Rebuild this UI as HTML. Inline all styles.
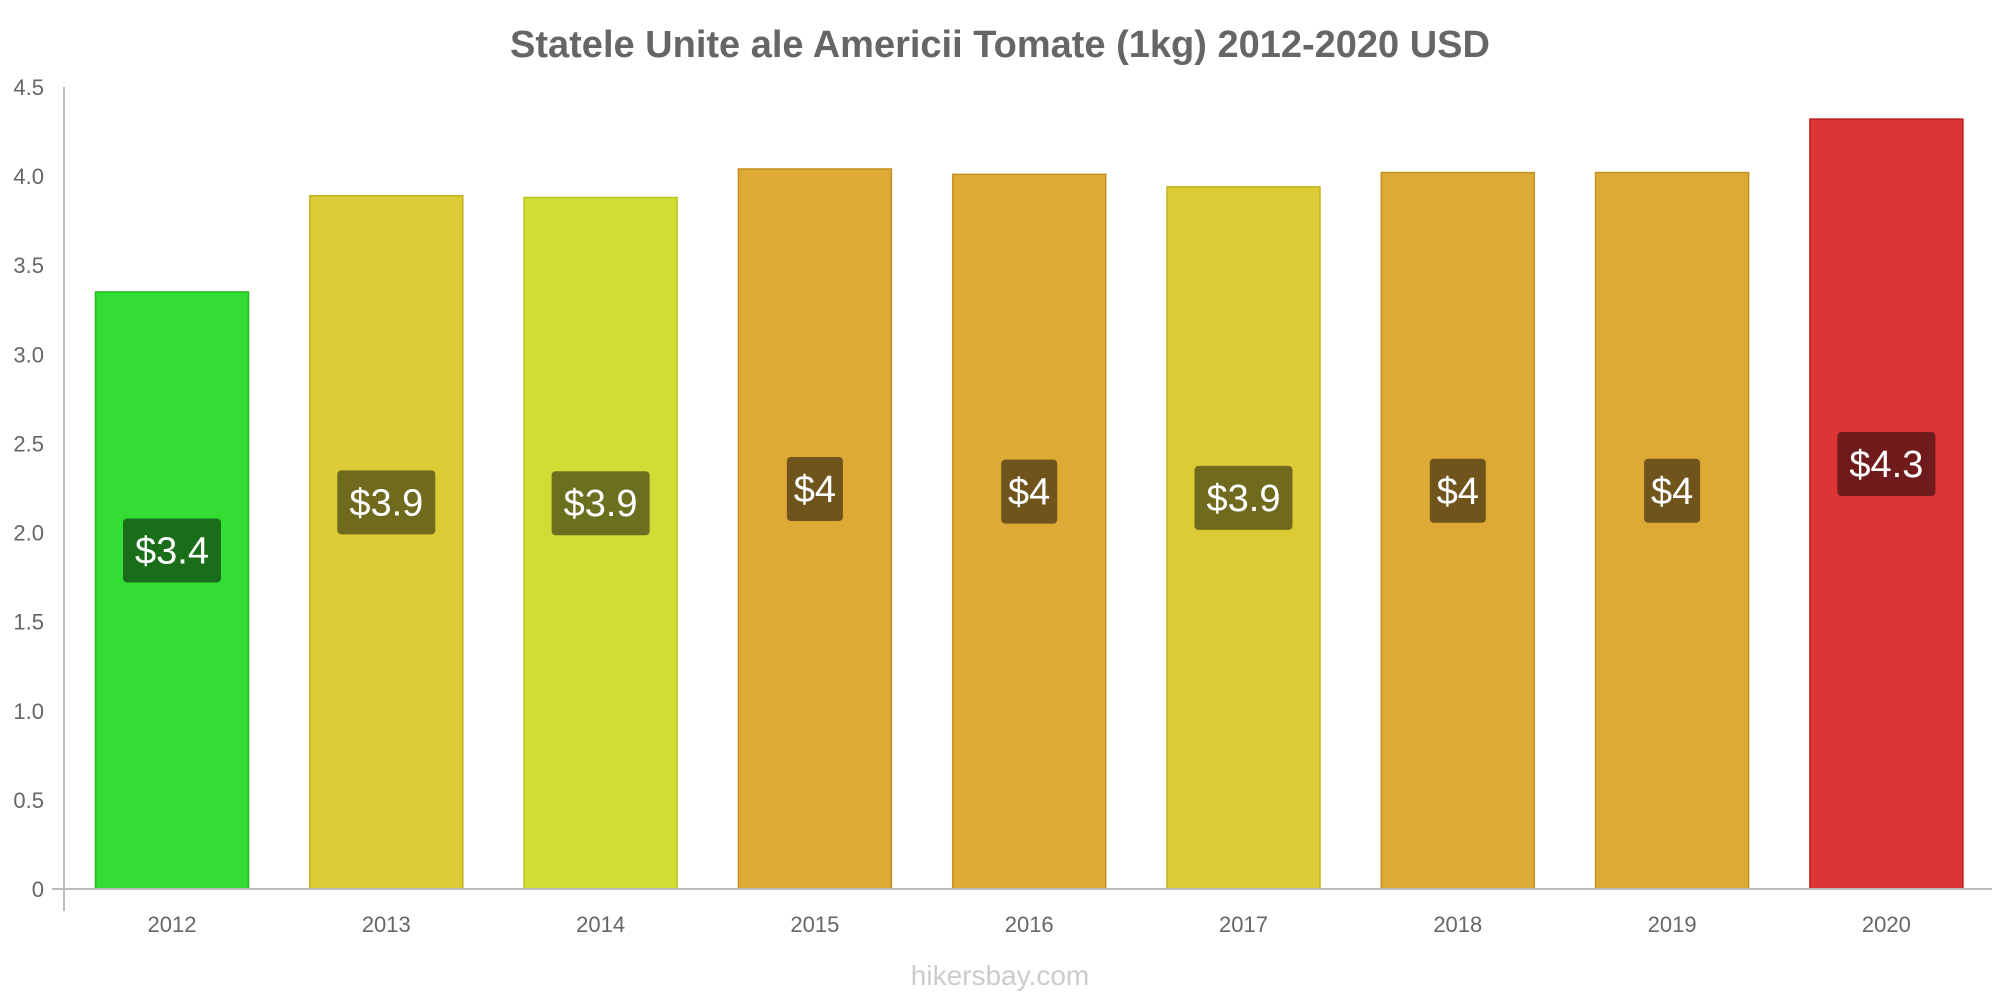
<!DOCTYPE html>
<html><head><meta charset="utf-8"><style>
body{margin:0;background:#fff;}
svg{display:block;font-family:"Liberation Sans",sans-serif;}
</style></head><body>
<svg id="c" width="2000" height="1000">
<text x="1000" y="57" text-anchor="middle" font-size="38" font-weight="bold" fill="#666">Statele Unite ale Americii Tomate (1kg) 2012-2020 USD</text>
<text x="1000" y="985" text-anchor="middle" font-size="28" fill="#ccc">hikersbay.com</text>
</svg>
<script>
const years=["2012","2013","2014","2015","2016","2017","2018","2019","2020"];
const values=[3.35,3.89,3.88,4.04,4.01,3.94,4.02,4.02,4.32];
const labels=["$3.4","$3.9","$3.9","$4","$4","$3.9","$4","$4","$4.3"];
const ticks=[0,0.5,1,1.5,2,2.5,3,3.5,4,4.5];
const tickLabels=["0","0.5","1.0","1.5","2.0","2.5","3.0","3.5","4.0","4.5"];
const fills=["#33dd33","#dccb35","#cfdd35","#dcaa35","#dcaa35","#dccb35","#dcaa35","#dcaa35","#db3535"];
const strokes=["#22bb22","#c4b020","#b8c420","#c49020","#c49020","#c4b020","#c49020","#c49020","#c02020"];
const boxes=["#1a6e1a","#6f6a1d","#6b7020","#6f541c","#6f541c","#6f6a1d","#6f541c","#6f541c","#6f1b1b"];
const svg=document.getElementById('c');const NS="http://www.w3.org/2000/svg";
const y0=889,yTop=87,vmax=4.5,x0=64,step=214.3,bw=153;
const y=v=>y0-(v/vmax)*(y0-yTop);
const xc=i=>x0+108+step*i;
function mk(t,a){const e=document.createElementNS(NS,t);for(const k in a)e.setAttribute(k,a[k]);svg.appendChild(e);return e;}
ticks.forEach((t,i)=>{const e=mk('text',{x:44,y:y(t)+8,'text-anchor':'end','font-size':22,fill:'#666'});e.textContent=tickLabels[i];

});
values.forEach((v,i)=>{
const r=mk('rect',{x:xc(i)-bw/2,y:y(v),width:bw,height:y0-y(v),fill:fills[i],stroke:strokes[i],'stroke-width':1.5});


const cy=(y(v)+y0)/2-40;const w=labels[i].length*21+14;
const b=mk('rect',{x:xc(i)-w/2,y:cy-32,width:w,height:64,rx:4,fill:boxes[i]});


const t=mk('text',{x:xc(i),y:cy+13,'text-anchor':'middle','font-size':38,fill:'#fff'});t.textContent=labels[i];


const xl=mk('text',{x:xc(i),y:932,'text-anchor':'middle','font-size':22,fill:'#666'});xl.textContent=years[i];


});
const ya=mk('line',{x1:x0,y1:yTop,x2:x0,y2:911,stroke:'#bbb','stroke-width':2});


const xa=mk('line',{x1:52,y1:y0,x2:1992,y2:y0,stroke:'#bbb','stroke-width':2});


</script>
</body></html>
